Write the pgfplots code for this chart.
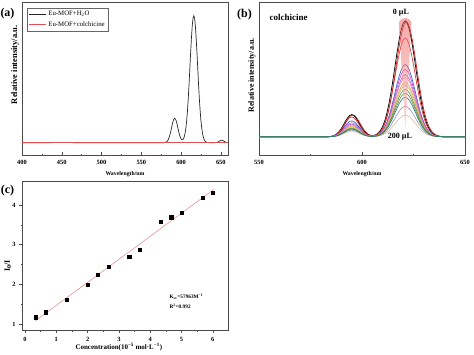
\documentclass[border=0pt]{standalone}
\usepackage{pgfplots}
\pgfplotsset{compat=1.18}
\usepackage{pgfplotstable}
\usepackage{fontspec}
\setmainfont{Liberation Serif}

% shape of the two Eu emission bands in panel (b): x, band at 595 nm, band at 621 nm
\pgfplotstableread{
x g1 g2
550 0 0
570 0 0
580 0 0
582 0.001 0
583 0.004 0
584 0.0095 0
585 0.021 0
586 0.044 0
587 0.085 0
588 0.152 0
589 0.250 0
590 0.382 0
591 0.540 0
592 0.707 0
593 0.857 0
594 0.962 0
595 1 0
596 0.962 0
597 0.857 0
598 0.707 0
599 0.540 0
600 0.382 0
601 0.250 0
602 0.152 0.001
603 0.085 0.0015
604 0.044 0.003
605 0.021 0.006
606 0.0095 0.011
607 0.004 0.020
608 0.001 0.034
609 0 0.056
610 0 0.089
611 0 0.135
612 0 0.198
613 0 0.278
614 0 0.375
615 0 0.487
616 0 0.607
617 0 0.726
618 0 0.835
619 0 0.923
620 0 0.980
621 0 1
622 0 0.980
623 0 0.923
624 0 0.835
625 0 0.726
626 0 0.607
627 0 0.487
628 0 0.375
629 0 0.278
630 0 0.198
631 0 0.135
632 0 0.089
633 0 0.056
634 0 0.034
635 0 0.020
636 0 0.011
637 0 0.006
638 0 0.003
639 0 0.0015
640 0 0
650 0 0
}\spectrumb

\definecolor{cRedA}{RGB}{225,80,80}
\definecolor{cRed0}{RGB}{220,30,30}
\definecolor{cRed}{RGB}{215,40,40}
\definecolor{cBlue}{RGB}{50,80,190}
\definecolor{cMag}{RGB}{210,70,200}
\definecolor{cViol}{RGB}{150,100,220}
\definecolor{cPink}{RGB}{240,140,170}
\definecolor{cOra}{RGB}{235,160,70}
\definecolor{cTan}{RGB}{210,180,110}
\definecolor{cGreen}{RGB}{70,160,70}
\definecolor{cOlive}{RGB}{130,130,50}
\definecolor{cTeal}{RGB}{30,120,130}
\definecolor{cGray}{RGB}{150,150,170}
\definecolor{cBeige}{RGB}{215,190,160}
\definecolor{cFit}{RGB}{225,150,150}

\pgfplotsset{
  panel/.style={
    scale only axis,
    axis line style={draw=black!70, line width=0.6pt},
    tick style={draw=black!70, line width=0.5pt},
    major tick length=3pt, minor tick length=1.5pt,
    tick pos=left,
    tick label style={font=\fontsize{6.4}{7}\selectfont\bfseries},
    /pgf/number format/assume math mode=true,
  }
}

\begin{document}
\begin{tikzpicture}
\path[use as bounding box] (0pt,0pt) rectangle (474pt,354pt);

% ---------------- (a) ----------------
\begin{axis}[panel,
  at={(22pt,199pt)}, anchor=south west, width=206pt, height=153pt,
  xmin=400, xmax=659, ymin=0, ymax=1,
  xtick={400,450,...,650}, minor x tick num=1, ytick=\empty,
  xticklabel style={yshift=-1.5pt},
  xlabel={Wavelength/nm}, ylabel={Relative intensity/a.u.},
  xlabel style={font=\fontsize{5.8}{6}\selectfont\bfseries, at={(axis description cs:0.5,-0.124)}, anchor=center},
  ylabel style={font=\fontsize{8.5}{9}\selectfont\bfseries, at={(axis description cs:-0.034,0.59)}, anchor=center},
  legend style={at={(0.023,0.963)}, anchor=north west, draw=black!60, line width=0.4pt,
    font=\fontsize{6.8}{7.5}\selectfont, inner sep=1.5pt, row sep=0pt},
  legend cell align=left,
]
\addplot[black!85, line width=0.7pt] coordinates {
(400,0.080) (450,0.081) (500,0.080) (550,0.080) (570,0.080) (578,0.080) (579,0.081)
(580,0.082) (581,0.084) (582,0.087) (583,0.093) (584,0.102) (585,0.115) (586,0.132)
(587,0.153) (588,0.177) (589,0.201) (590,0.221) (591,0.235) (592,0.240) (593,0.235)
(594,0.221) (595,0.201) (596,0.177) (597,0.153) (598,0.133) (599,0.117) (600,0.105)
(601,0.099) (602,0.099) (603,0.105) (604,0.119) (605,0.141) (606,0.175) (607,0.223)
(608,0.287) (609,0.366) (610,0.459) (611,0.562) (612,0.666) (613,0.762) (614,0.841)
(615,0.893) (616,0.910) (617,0.893) (618,0.841) (619,0.762) (620,0.666) (621,0.562)
(622,0.459) (623,0.366) (624,0.287) (625,0.223) (626,0.175) (627,0.140) (628,0.117)
(629,0.101) (630,0.092) (631,0.086) (632,0.083) (634,0.081) (636,0.080) (640,0.080)
(644,0.081) (646,0.084) (648,0.090) (650,0.096) (651,0.097) (652,0.096) (654,0.090)
(656,0.084) (659,0.081)
};
\addlegendentry{Eu-MOF+H\textsubscript{2}O}
\addplot[cRedA, line width=0.9pt] coordinates {(400,0.079) (659,0.079)};
\addlegendentry{Eu-MOF+colchicine}
\end{axis}

% ---------------- (b) ----------------
\begin{axis}[panel,
  at={(259pt,199pt)}, anchor=south west, width=206pt, height=153pt,
  xmin=550, xmax=650, ymin=0, ymax=1,
  xtick={550,600,650}, minor x tick num=1, ytick=\empty,
  xticklabel style={yshift=-1.5pt},
  xlabel={Wavelength/nm}, ylabel={Relative intensity/a.u.},
  xlabel style={font=\fontsize{5.8}{6}\selectfont\bfseries, at={(axis description cs:0.5,-0.124)}, anchor=center},
  ylabel style={font=\fontsize{8}{9}\selectfont\bfseries, at={(axis description cs:-0.034,0.52)}, anchor=center},
]
\addplot[cGray, line width=0.6pt] table[x=x, y expr=0.119+0.043*\thisrow{g1}+0.199*\thisrow{g2}] {\spectrumb};
\addplot[cBeige, line width=0.6pt] table[x=x, y expr=0.119+0.037*\thisrow{g1}+0.141*\thisrow{g2}] {\spectrumb};
\addplot[cRed0, line width=0.7pt] table[x expr=\thisrow{x}+0.5, y expr=0.119+0.143*\thisrow{g1}+0.752*\thisrow{g2}] {\spectrumb};
\addplot[black, line width=0.7pt] table[x=x, y expr=0.119+0.145*\thisrow{g1}+0.758*\thisrow{g2}] {\spectrumb};
\addplot[cRed, line width=0.6pt] table[x=x, y expr=0.119+0.130*\thisrow{g1}+0.647*\thisrow{g2}] {\spectrumb};
\addplot[cBlue, line width=0.6pt] table[x=x, y expr=0.119+0.104*\thisrow{g1}+0.472*\thisrow{g2}] {\spectrumb};
\addplot[cMag, line width=0.6pt] table[x=x, y expr=0.119+0.091*\thisrow{g1}+0.440*\thisrow{g2}] {\spectrumb};
\addplot[cViol, line width=0.6pt] table[x=x, y expr=0.119+0.082*\thisrow{g1}+0.407*\thisrow{g2}] {\spectrumb};
\addplot[cPink, line width=0.6pt] table[x=x, y expr=0.119+0.076*\thisrow{g1}+0.388*\thisrow{g2}] {\spectrumb};
\addplot[cOra, line width=0.6pt] table[x=x, y expr=0.119+0.069*\thisrow{g1}+0.355*\thisrow{g2}] {\spectrumb};
\addplot[cTan, line width=0.6pt] table[x=x, y expr=0.119+0.063*\thisrow{g1}+0.336*\thisrow{g2}] {\spectrumb};
\addplot[cGreen, line width=0.6pt] table[x=x, y expr=0.119+0.056*\thisrow{g1}+0.310*\thisrow{g2}] {\spectrumb};
\addplot[cOlive, line width=0.6pt] table[x=x, y expr=0.119+0.053*\thisrow{g1}+0.284*\thisrow{g2}] {\spectrumb};
\addplot[cTeal, line width=0.6pt] table[x=x, y expr=0.119+0.050*\thisrow{g1}+0.258*\thisrow{g2}] {\spectrumb};
% shaded arrow from 0 uL to 200 uL
\path[top color={rgb,255:red,235;green,85;blue,85}, bottom color={rgb,255:red,245;green,185;blue,185}, fill opacity=0.5]
  (axis cs:618.0,0.870) -- (axis cs:619.5,0.890) -- (axis cs:621,0.895) -- (axis cs:622.5,0.890)
  -- (axis cs:624.0,0.870) -- (axis cs:622.3,0.45) -- (axis cs:621,0.170) -- (axis cs:619.7,0.45) -- cycle;
\node[font=\fontsize{9}{10}\selectfont\bfseries] at (axis description cs:0.144,0.90) {colchicine};
\node[font=\fontsize{8}{9}\selectfont\bfseries] at (axis description cs:0.689,0.928) {0 µL};
\node[font=\fontsize{8}{9}\selectfont\bfseries] at (axis description cs:0.684,0.118) {200 µL};
\end{axis}

% ---------------- (c) ----------------
\begin{axis}[panel,
  at={(22pt,24pt)}, anchor=south west, width=206pt, height=149pt,
  xmin=-0.096, xmax=6.486, ymin=0.849, ymax=4.605,
  xtick={0,1,...,6}, ytick={1,2,3,4}, minor tick num=1,
  tick align=outside,
  xticklabel style={yshift=-0.5pt},
  xlabel={Concentration(10\textsuperscript{−5} mol·L\textsuperscript{−1})},
  ylabel={I\textsubscript{0}/I},
  xlabel style={font=\fontsize{7}{8}\selectfont\bfseries, at={(axis description cs:0.47,-0.114)}, anchor=center},
  ylabel style={font=\fontsize{8}{9}\selectfont\bfseries, at={(axis description cs:-0.068,0.43)}, anchor=center},
]
\addplot[cFit, line width=0.6pt] coordinates {(0.33,1.08) (6.03,4.39)};
\addplot[only marks, mark=square*, mark size=1.6pt, black] coordinates {
(0.33,1.17) (0.67,1.30) (1.33,1.62) (2.00,2.00) (2.33,2.25) (2.67,2.45) (3.33,2.69)
(3.67,2.87) (4.33,3.58) (4.67,3.69) (5.00,3.81) (5.67,4.18) (6.00,4.31)
};
\node[anchor=west, font=\fontsize{5.3}{6}\selectfont\bfseries] at (axis description cs:0.699,0.221) {K\textsubscript{sv}=57963M\textsuperscript{−1}};
\node[anchor=west, font=\fontsize{5.3}{6}\selectfont\bfseries] at (axis description cs:0.699,0.156) {R\textsuperscript{2}=0.992};
\end{axis}

% panel letters
\node[font=\fontsize{12}{12}\selectfont\bfseries, inner sep=0pt] at (7.5pt,340pt) {(a)};
\node[font=\fontsize{12}{12}\selectfont\bfseries, inner sep=0pt] at (244.5pt,339pt) {(b)};
\node[font=\fontsize{12}{12}\selectfont\bfseries, inner sep=0pt] at (7.5pt,163pt) {(c)};
\end{tikzpicture}
\end{document}
